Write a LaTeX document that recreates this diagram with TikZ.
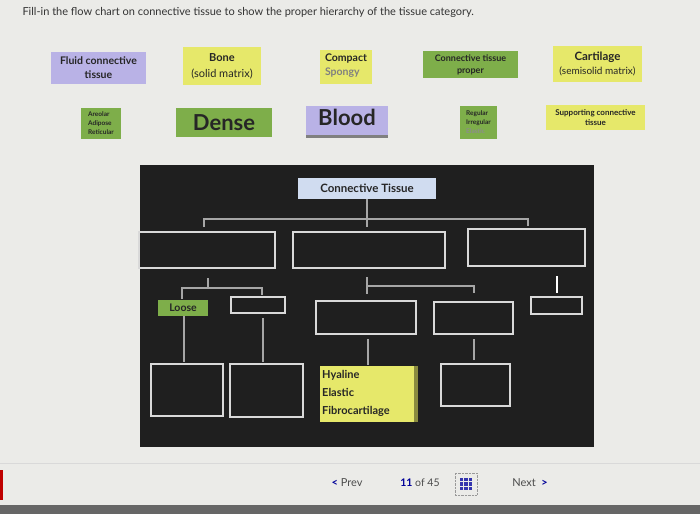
\documentclass[tikz,border=0pt]{standalone}
\usepackage{fontspec}
\setmainfont{Lato}
\begin{document}
\begin{tikzpicture}[x=1pt,y=-1pt,
  lab/.style={inner sep=0pt,align=center,text=black!85,font=\bfseries\fontsize{10.5}{12}\selectfont},
  wb/.style={draw=white!85!black,line width=1.2pt},
  ln/.style={draw=gray!70,line width=1.8pt}]
\definecolor{bg}{HTML}{EBEBE8}
\definecolor{pur}{HTML}{B9B2E6}
\definecolor{yel}{HTML}{E6E86A}
\definecolor{grn}{HTML}{7EAE4A}
\definecolor{lb}{HTML}{D0DCF0}
\fill[bg] (0,0) rectangle (700,514);
\useasboundingbox (0,0) rectangle (700,514);
\node[anchor=west,font=\fontsize{11}{13}\selectfont,text=black!80] (title) at (19,12) {Fill-in the flow chart on connective tissue to show the proper hierarchy of the tissue category.};
% row 1
\fill[pur] (51,52) rectangle (146,84); \node[lab] (f) at (98.5,68) {Fluid connective\\[2pt] tissue};
\fill[yel] (183,47) rectangle (261,85); \node[lab,font=\fontsize{11}{13}\selectfont] (b) at (222,66) {\textbf{Bone}\\[3pt](solid matrix)};
\fill[yel] (320,50) rectangle (372,84); \node[lab,align=left] (c) at (346,66) {Compact\\[2pt]\textcolor{black!50}{Spongy}};
\fill[grn] (423,51) rectangle (518,78); \node[lab,font=\bfseries\fontsize{9}{11}\selectfont] (p) at (470.5,64.5) {Connective tissue\\[1pt] proper};
\fill[yel] (553,46) rectangle (642,82); \node[lab,font=\fontsize{10}{12}\selectfont] (ca) at (597.5,64) {\textbf{\fontsize{11.5}{13}\selectfont Cartilage}\\[2pt](semisolid matrix)};
% row 2
\fill[grn] (81,108) rectangle (121,139); \node[lab,align=left,font=\bfseries\fontsize{6.5}{9}\selectfont] (ar) at (101,123.5) {Areolar\\Adipose\\Reticular};
\fill[grn] (176,108) rectangle (272,137); \node[lab,font=\bfseries\fontsize{22}{24}\selectfont] (d) at (224,122.5) {Dense};
\fill[black!50] (306,134) rectangle (388,138);
\fill[pur] (306,106) rectangle (388,135); \node[lab,font=\bfseries\fontsize{22}{24}\selectfont] (bl) at (347,117) {Blood};
\fill[grn] (460,106) rectangle (497,139); \node[lab,align=left,font=\bfseries\fontsize{6.5}{9}\selectfont] (r) at (478.5,122.5) {Regular\\Irregular\\\textcolor{black!45}{Elastic}};
\fill[yel] (546,105) rectangle (645,130); \node[lab,font=\bfseries\fontsize{8}{10}\selectfont] (s) at (595.5,117.5) {Supporting connective\\ tissue};
% panel
\fill[black!88] (140,165) rectangle (594,447);
\fill[lb] (298,178) rectangle (436,199); \node[lab,font=\bfseries\fontsize{11.5}{13}\selectfont] (ct) at (367,188.5) {Connective Tissue};
% level 1
\node[wb,minimum width=136,minimum height=36,inner sep=0] (A) at (207,250) {};
\node[wb,minimum width=152,minimum height=36,inner sep=0] (B) at (369,250) {};
\node[wb,minimum width=117,minimum height=37,inner sep=0] (C) at (526.5,247.5) {};
\coordinate (ctb) at (367,199);
\draw[ln] (ctb) -- (367,227);
\draw[ln] (204,227) -- (204,219) -- (528,219) -- (528,226);
% left branch
\fill[grn] (158,300) rectangle (208,316); \node[lab,font=\bfseries\fontsize{10.5}{12}\selectfont] (lo) at (183,308) {Loose};
\node[wb,minimum width=54,minimum height=16,inner sep=0] (s1) at (258,305) {};
\draw[ln] (208,278) -- (208,288);
\draw[ln] (182,299) -- (182,288) -- (262,288) -- (262,295);
\node[wb,minimum width=72,minimum height=52,inner sep=0] (L1) at (187,390) {};
\node[wb,minimum width=73,minimum height=53,inner sep=0] (L2) at (266.5,390.5) {};
\draw[ln] (184,316) -- (184,362);
\draw[ln] (263,318) -- (263,362);
% middle branch
\node[wb,minimum width=100,minimum height=33,inner sep=0] (M1) at (366,317.5) {};
\node[wb,minimum width=79,minimum height=32,inner sep=0] (M2) at (473.5,318) {};
\draw[ln] (367,277) -- (367,294);
\draw[ln] (367,286) -- (474,286) -- (474,293);
\draw[ln] (368,339) -- (368,365);
\draw[ln] (474,339) -- (474,360);
\fill[black!40!yel] (413,366) rectangle (418,422);
\fill[yel] (320,366) rectangle (414,422);
\node[lab,align=left,anchor=west,font=\bfseries\fontsize{11}{18}\selectfont] (hy) at (322,393) {Hyaline\\Elastic\\Fibrocartilage};
\node[wb,minimum width=69,minimum height=42,inner sep=0] (M3) at (475.5,385) {};
% right branch
\node[wb,minimum width=51,minimum height=17,inner sep=0] (R1) at (556.5,305.5) {};
\draw[white,line width=2.5pt] (557,276) -- (557,293);
% footer
\draw[black!15] (0,463) -- (700,463);
\fill[red!75!black] (0,470) rectangle (3,500);
\node[font=\fontsize{11}{13}\selectfont,text=black!70] (pv) at (347,483) {\textcolor{blue!60!black}{\textbf{\textless}}\ Prev};
\node[font=\fontsize{10.5}{12}\selectfont,text=black!70] (pg) at (420,483) {\textcolor{blue!60!black}{\textbf{11}} of 45};
\node[draw=black!40,densely dotted,minimum width=22,minimum height=22,inner sep=0] (gr) at (466,484) {};
\foreach \i in {-1,0,1} \foreach \j in {-1,0,1} \fill[blue!60!black!80] (466+\i*4.5-1.7,484+\j*4.5-1.7) rectangle ++(3.4,3.4);
\node[font=\fontsize{11}{13}\selectfont,text=black!70] (nx) at (530,483) {Next\ \ \textcolor{blue!60!black}{\textbf{\textgreater}}};
\fill[black!60] (0,505) rectangle (700,514);
\end{tikzpicture}
\end{document}
